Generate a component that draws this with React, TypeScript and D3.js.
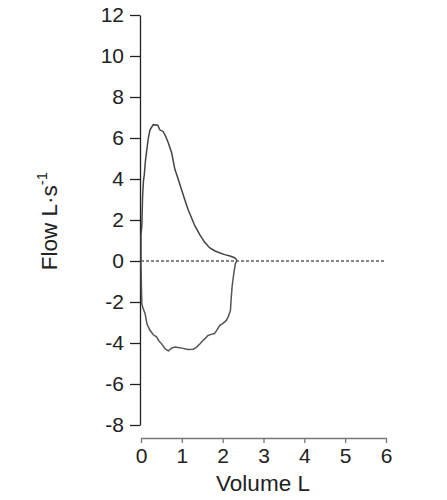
import React, { useEffect, useRef } from "react";
import * as d3 from "d3";

// expiratory limb (volume L, flow L/s)
const expVolume = [0, 0.0, 0.02, 0.04, 0.06, 0.08, 0.11, 0.14, 0.18, 0.22, 0.3, 0.41, 0.46, 0.54, 0.6, 0.67, 0.75, 0.83, 0.91, 0.99, 1.07, 1.15, 1.32, 1.45, 1.56, 1.68, 1.8, 1.92, 2.05, 2.18, 2.29, 2.35];
const expFlow = [0, 1.3, 1.7, 3.2, 3.9, 4.2, 4.9, 5.4, 6.0, 6.4, 6.65, 6.62, 6.4, 6.32, 6.1, 5.76, 5.28, 4.47, 4.0, 3.5, 3.0, 2.52, 1.71, 1.25, 0.91, 0.65, 0.5, 0.4, 0.31, 0.24, 0.16, 0.05];

// inspiratory limb
const inspVolume = [2.35, 2.31, 2.28, 2.25, 2.23, 2.21, 2.19, 2.14, 2.09, 2.0, 1.93, 1.85, 1.8, 1.72, 1.64, 1.56, 1.52, 1.44, 1.36, 1.28, 1.15, 1.0, 0.9, 0.83, 0.75, 0.67, 0.6, 0.5, 0.44, 0.38, 0.3, 0.22, 0.15, 0.1, 0.05, 0.02, 0.01, 0.0];
const inspFlow = [0.05, -0.15, -0.5, -0.95, -1.28, -1.8, -2.41, -2.7, -2.9, -3.05, -3.14, -3.4, -3.54, -3.58, -3.63, -3.8, -3.87, -4.05, -4.2, -4.3, -4.32, -4.25, -4.22, -4.2, -4.25, -4.38, -4.3, -4.03, -3.9, -3.7, -3.6, -3.38, -3.1, -2.57, -2.3, -2.09, -1.2, 0];

const yTicks = [-8, -6, -4, -2, 0, 2, 4, 6, 8, 10, 12];
const xTicks = [0, 1, 2, 3, 4, 5, 6];

export default function App() {
    const svgRef = useRef<SVGSVGElement>(null);

    useEffect(() => {
        const svg = d3.select(svgRef.current);
        svg.selectAll("*").remove();
        const font = "'Liberation Sans', Arial, sans-serif";

        const x = d3.scaleLinear().domain([0, 6]).range([141, 386]);
        const y = d3.scaleLinear().domain([-8, 12]).range([425, 15]);

        // y axis
        const yAxis = svg
            .append("g")
            .attr("transform", "translate(140,0)")
            .call(
                d3
                    .axisLeft(y)
                    .tickValues(yTicks)
                    .tickFormat((d) => String(d))
                    .tickSize(10)
                    .tickPadding(6)
                    .tickSizeOuter(0)
            );
        yAxis.select(".domain").attr("stroke", "#222").attr("stroke-width", 1.3);
        yAxis.selectAll(".tick line").attr("stroke", "#222").attr("stroke-width", 1.3);
        yAxis
            .selectAll(".tick text")
            .attr("font-family", font)
            .attr("font-size", 21)
            .attr("fill", "#222");

        // x axis, offset below the plot
        const xAxis = svg
            .append("g")
            .attr("transform", "translate(0,438)")
            .call(
                d3
                    .axisBottom(x)
                    .tickValues(xTicks)
                    .tickFormat((d) => String(d))
                    .tickSize(5)
                    .tickPadding(5)
                    .tickSizeOuter(0)
            );
        xAxis.select(".domain").attr("stroke", "#777").attr("stroke-width", 1.3);
        xAxis.selectAll(".tick line").attr("stroke", "#777").attr("stroke-width", 1.3);
        xAxis
            .selectAll(".tick text")
            .attr("font-family", font)
            .attr("font-size", 21)
            .attr("fill", "#222");

        // zero line
        svg
            .append("line")
            .attr("x1", x(0))
            .attr("x2", x(6))
            .attr("y1", y(0))
            .attr("y2", y(0))
            .attr("stroke", "#111")
            .attr("stroke-width", 1)
            .attr("stroke-dasharray", "3,2");

        const path = d3.line();
        const exp = expVolume.map((v, i) => [x(v), y(expFlow[i])] as [number, number]);
        const insp = inspVolume.map((v, i) => [x(v), y(inspFlow[i])] as [number, number]);

        svg
            .append("path")
            .attr("d", path(exp))
            .attr("fill", "none")
            .attr("stroke", "#444")
            .attr("stroke-width", 1.5);
        svg
            .append("path")
            .attr("d", path(insp))
            .attr("fill", "none")
            .attr("stroke", "#555")
            .attr("stroke-width", 1.5);

        // axis titles
        svg
            .append("text")
            .attr("x", 263)
            .attr("y", 491)
            .attr("text-anchor", "middle")
            .attr("font-family", font)
            .attr("font-size", 22.5)
            .attr("fill", "#222")
            .text("Volume L");

        const yTitle = svg
            .append("text")
            .attr("transform", "translate(57,221) rotate(-90)")
            .attr("text-anchor", "middle")
            .attr("font-family", font)
            .attr("font-size", 22.5)
            .attr("fill", "#222");
        yTitle.append("tspan").text("Flow L·s");
        yTitle.append("tspan").attr("dy", -10).attr("font-size", 15).text("-1");
    }, []);

    return (
        <svg
            ref={svgRef}
            width={447}
            height={500}
            style={{ position: "absolute", left: 0, top: 0, background: "#fff" }}
        />
    );
}
